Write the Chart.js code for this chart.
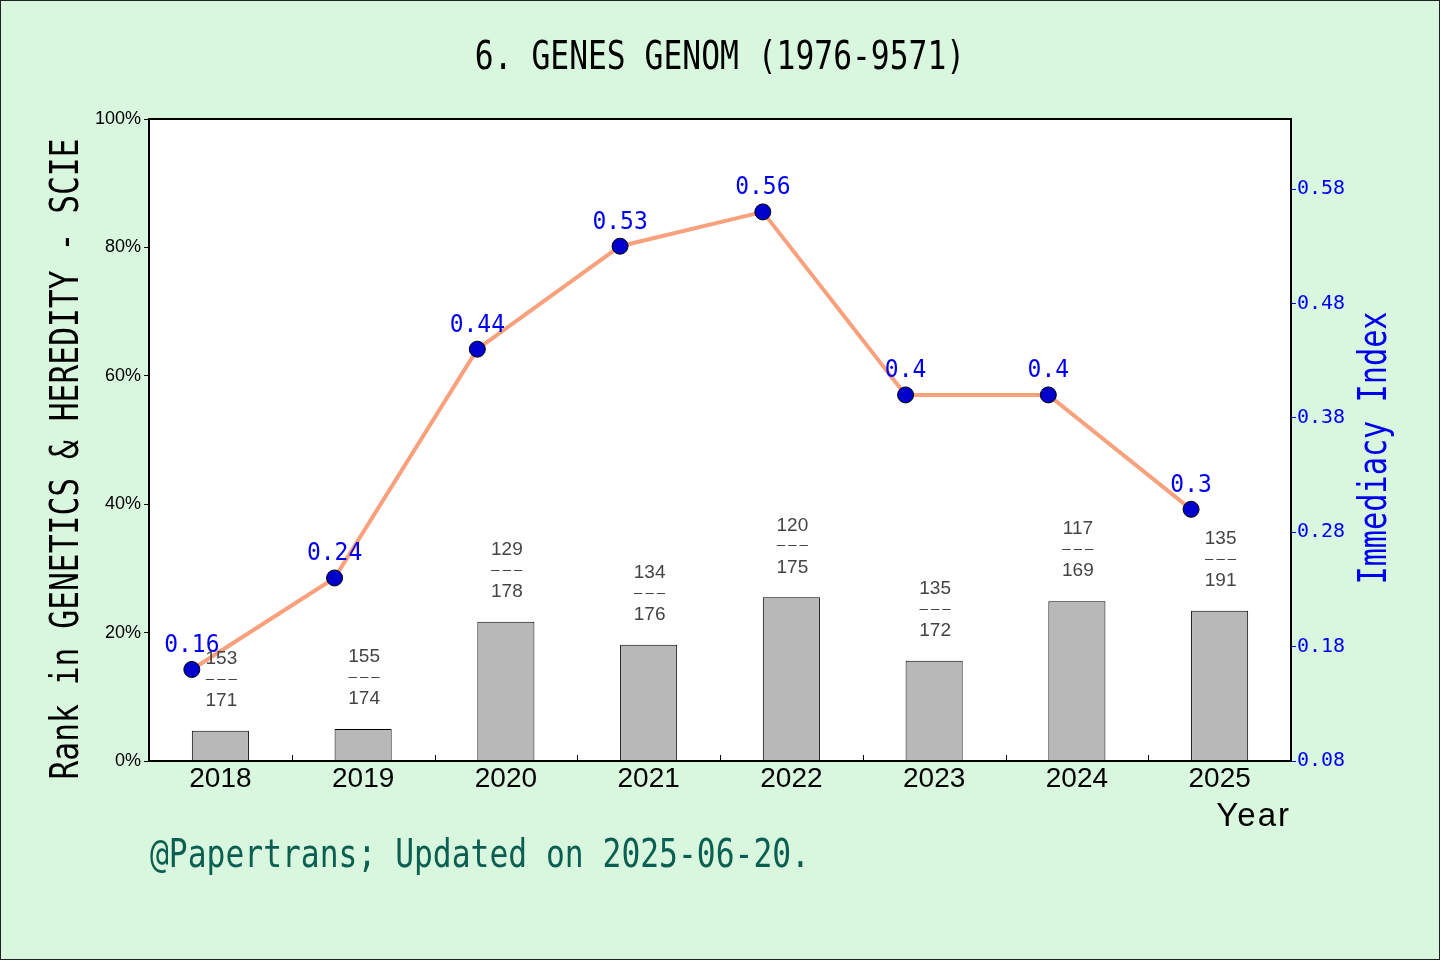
<!DOCTYPE html>
<html>
<head>
<meta charset="utf-8">
<script src="https://cdn.jsdelivr.net/npm/chart.js@4.4.1/dist/chart.umd.min.js"></script>
<style>
html,body{margin:0;padding:0;background:#d9f7de;}
#wrap{width:1440px;height:960px;}
</style>
</head>
<body>
<div id="wrap"><canvas id="c" width="1440" height="960"></canvas></div>
<script>
const years = ['2018','2019','2020','2021','2022','2023','2024','2025'];
const rankValues = [153,155,129,134,120,135,117,135];
const totalValues = [171,174,178,176,175,172,169,191];
const barPercent = [4.7,5.0,21.7,18.1,25.5,15.6,24.9,23.4];
const immediacy = [0.16,0.24,0.44,0.53,0.56,0.40,0.40,0.30];
const leftTicks = [0,20,40,60,80,100];
const rightTicks = [0.08,0.18,0.28,0.38,0.48,0.58];
const rightMax = 0.6412;

const titleText = '6. GENES GENOM (1976-9571)';
const footerText = '@Papertrans; Updated on 2025-06-20.';
const leftTitle = 'Rank in GENETICS & HEREDITY - SCIE';
const rightTitle = 'Immediacy Index';
const xTitle = 'Year';

const BAR_PCT = 0.4;
const MONO = '"DejaVu Sans Mono", "Liberation Mono", monospace';
const SANS = '"Liberation Sans", Arial, sans-serif';

function monoText(ctx, text, x, y, size, color, align, rot, sx) {
  ctx.save();
  ctx.translate(x, y);
  if (rot) ctx.rotate(rot);
  ctx.scale(sx, 1.08);
  ctx.font = size + 'px ' + MONO;
  ctx.fillStyle = color;
  ctx.textAlign = align;
  ctx.textBaseline = 'middle';
  ctx.fillText(text, 0, 0);
  ctx.restore();
}

const decor = {
  id: 'decor',
  beforeDraw(chart) {
    const ctx = chart.ctx, a = chart.chartArea;
    ctx.save();
    ctx.fillStyle = '#d9f7de';
    ctx.fillRect(0, 0, chart.width, chart.height);
    ctx.fillStyle = '#ffffff';
    ctx.fillRect(a.left, a.top, a.right - a.left, a.bottom - a.top);
    ctx.restore();
  },
  afterDatasetsDraw(chart) {
    const ctx = chart.ctx;
    const barMeta = chart.getDatasetMeta(0);
    ctx.save();
    ctx.fillStyle = '#444444';
    ctx.textAlign = 'center';
    ctx.textBaseline = 'middle';
    barMeta.data.forEach((el, i) => {
      ctx.font = '19px ' + SANS;
      ctx.letterSpacing = '0px';
      ctx.fillText(String(rankValues[i]), el.x + 1, el.y - 72);
      ctx.fillText(String(totalValues[i]), el.x + 1, el.y - 30);
      ctx.font = '15px ' + SANS;
      ctx.letterSpacing = '3px';
      ctx.fillText('\u2013\u2013\u2013', el.x + 2.5, el.y - 52);
    });
    ctx.restore();
    const lineMeta = chart.getDatasetMeta(1);
    lineMeta.data.forEach((el, i) => {
      monoText(ctx, String(immediacy[i]), el.x, el.y - 24, 23, '#0000ee', 'center', 0, 1);
    });
  },
  afterDraw(chart) {
    const ctx = chart.ctx, a = chart.chartArea;
    ctx.save();
    ctx.strokeStyle = '#000';
    ctx.lineWidth = 2;
    ctx.strokeRect(a.left, a.top, a.right - a.left, a.bottom - a.top);
    const xl = chart.scales.xl;
    ctx.lineWidth = 1;
    for (let i = 1; i < years.length; i++) {
      const x = Math.round(xl.getPixelForValue(i - 0.5)) + 0.5;
      ctx.beginPath();
      ctx.moveTo(x, a.bottom);
      ctx.lineTo(x, a.bottom - 6);
      ctx.stroke();
    }
    ctx.strokeStyle = '#222';
    ctx.strokeRect(0.5, 0.5, chart.width - 1, chart.height - 1);
    ctx.restore();
    monoText(ctx, titleText, 720, 59, 36, '#000', 'center', 0, 0.87);
    monoText(ctx, footerText, 150, 857, 36, '#0b5e52', 'left', 0, 0.87);
    monoText(ctx, leftTitle, 68, 459, 36, '#000', 'center', -Math.PI / 2, 0.87);
    monoText(ctx, rightTitle, 1376, 448, 36, '#0000ee', 'center', -Math.PI / 2, 0.84);
    ctx.save();
    ctx.font = '33px ' + SANS;
    ctx.letterSpacing = '2px';
    ctx.fillStyle = '#000';
    ctx.textAlign = 'right';
    ctx.textBaseline = 'middle';
    ctx.fillText(xTitle, 1291, 817);
    ctx.restore();
  }
};

new Chart(document.getElementById('c'), {
  data: {
    labels: years,
    datasets: [
      {
        type: 'bar',
        data: barPercent,
        xAxisID: 'x',
        yAxisID: 'y',
        backgroundColor: '#b8b8b8',
        borderColor: '#000000',
        borderWidth: 1,
        barPercentage: BAR_PCT,
        categoryPercentage: 1,
        grouped: false,
        order: 2
      },
      {
        type: 'line',
        data: immediacy.map((v, i) => ({ x: i - BAR_PCT / 2, y: v })),
        xAxisID: 'xl',
        yAxisID: 'y2',
        borderColor: '#f9a07c',
        borderWidth: 4,
        pointRadius: 8,
        pointHoverRadius: 8,
        pointBackgroundColor: '#0000cd',
        pointBorderColor: '#000000',
        pointBorderWidth: 1,
        tension: 0,
        order: 1
      }
    ]
  },
  options: {
    responsive: false,
    animation: false,
    layout: { padding: { top: 119, left: 0, right: 0, bottom: 0 } },
    plugins: { legend: { display: false }, title: { display: false }, tooltip: { enabled: false } },
    scales: {
      x: {
        type: 'category',
        offset: true,
        grid: { display: false },
        border: { display: false },
        ticks: { color: '#000', font: { family: SANS, size: 28 }, padding: -7, maxRotation: 0 },
        afterFit(s) { s.height = 199; }
      },
      xl: {
        type: 'linear',
        display: false,
        min: -0.5,
        max: years.length - 0.5
      },
      y: {
        position: 'left',
        min: 0,
        max: 100,
        afterBuildTicks(s) { s.ticks = leftTicks.map(v => ({ value: v })); },
        grid: { drawOnChartArea: false, color: '#000', tickLength: 5 },
        border: { display: false },
        ticks: { color: '#000', font: { family: SANS, size: 18 }, padding: 3, callback: v => v + '%' },
        afterFit(s) { s.width = 149; }
      },
      y2: {
        position: 'right',
        min: rightTicks[0],
        max: rightMax,
        afterBuildTicks(s) { s.ticks = rightTicks.map(v => ({ value: v })); },
        grid: { drawOnChartArea: false, color: '#0000ee', tickLength: 5 },
        border: { display: false },
        ticks: { color: '#0000ee', font: { family: MONO, size: 20 }, padding: 1, callback: v => v.toFixed(2) },
        afterFit(s) { s.width = 149; }
      }
    }
  },
  plugins: [decor]
});
</script>
</body>
</html>
